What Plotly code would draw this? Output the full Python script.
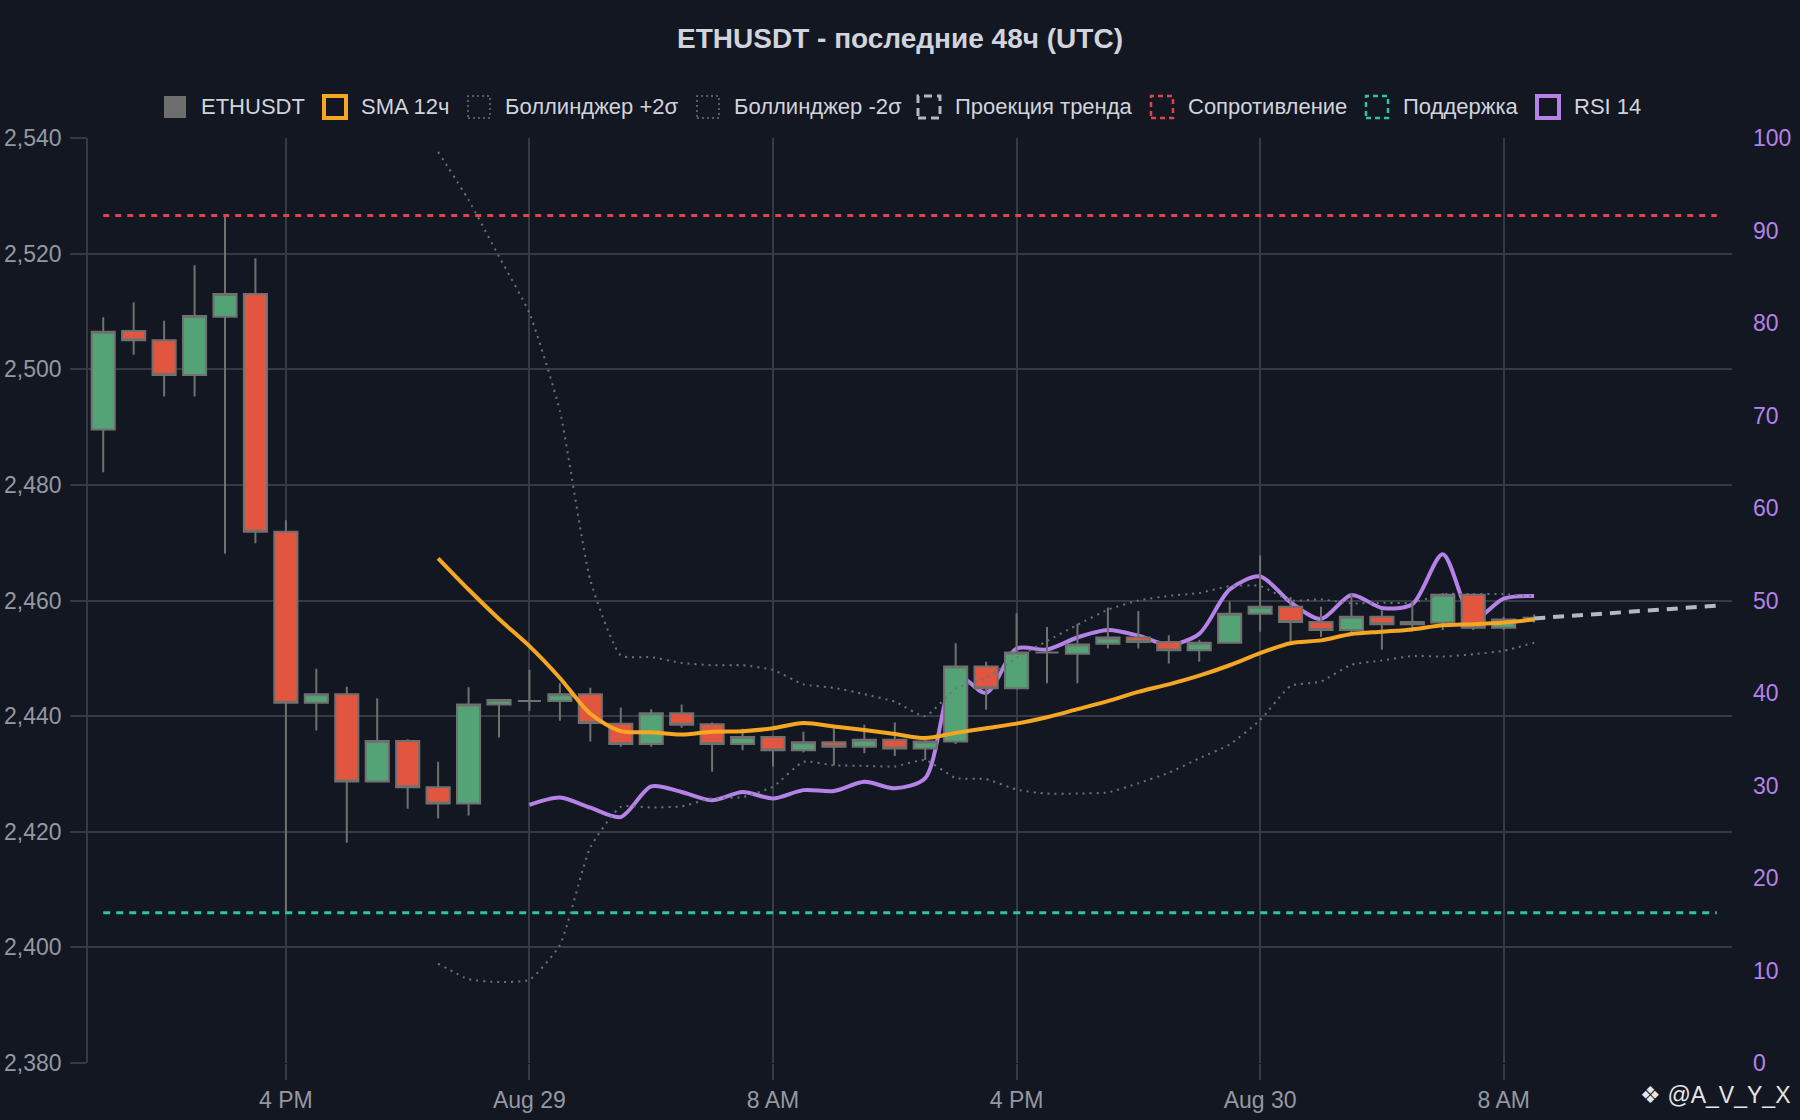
import pandas as pd
import plotly.graph_objects as go

# hourly candles, UTC
candle_times = pd.date_range("2024-08-28 10:00", periods=48, freq="h")

opens = [
    2489.6, 2506.6, 2505.0, 2499.0, 2509.1, 2513.0, 2471.9, 2442.3, 2443.8, 2428.7,
    2435.7, 2427.7, 2424.9, 2442.0, 2442.6, 2442.6, 2443.8, 2438.7, 2435.2, 2440.5,
    2438.6, 2435.2, 2436.4, 2434.1, 2435.5, 2434.7, 2435.9, 2434.4, 2435.6, 2448.6,
    2444.8, 2451.0, 2450.8, 2452.5, 2453.6, 2452.8, 2451.4, 2452.7, 2457.7, 2458.9,
    2456.3, 2454.9, 2457.2, 2455.9, 2456.2, 2461.0, 2455.3, 2457.0,
]
highs = [
    2509.0, 2511.6, 2508.4, 2518.0, 2526.6, 2519.2, 2473.9, 2448.2, 2445.1, 2443.1,
    2436.0, 2432.1, 2445.0, 2442.9, 2448.0, 2445.7, 2444.9, 2441.5, 2441.2, 2442.0,
    2438.9, 2437.8, 2436.6, 2437.3, 2438.3, 2438.5, 2438.9, 2436.4, 2452.6, 2449.4,
    2457.8, 2455.4, 2456.0, 2458.8, 2458.2, 2454.0, 2453.2, 2459.8, 2467.8, 2460.6,
    2458.9, 2461.2, 2458.3, 2459.8, 2461.3, 2461.2, 2457.2, 2457.6,
]
lows = [
    2482.2, 2502.5, 2495.3, 2495.3, 2468.1, 2469.9, 2406.0, 2437.5, 2418.1, 2428.6,
    2424.0, 2422.3, 2422.8, 2436.3, 2440.9, 2439.2, 2435.6, 2434.7, 2434.7, 2438.0,
    2430.4, 2434.1, 2431.3, 2433.7, 2431.5, 2433.6, 2433.1, 2432.4, 2435.2, 2441.1,
    2444.6, 2445.7, 2445.7, 2451.7, 2451.7, 2449.1, 2449.4, 2452.6, 2454.6, 2453.0,
    2453.7, 2454.3, 2451.5, 2455.2, 2454.9, 2454.9, 2454.9, 2456.2,
]
closes = [
    2506.5, 2505.0, 2499.0, 2509.2, 2513.0, 2471.9, 2442.3, 2443.8, 2428.7, 2435.7,
    2427.7, 2424.9, 2442.0, 2442.8, 2442.6, 2443.8, 2438.8, 2435.2, 2440.5, 2438.5,
    2435.2, 2436.4, 2434.1, 2435.5, 2434.7, 2435.9, 2434.4, 2435.6, 2448.6, 2444.8,
    2451.0, 2451.0, 2452.4, 2453.6, 2452.8, 2451.4, 2452.7, 2457.7, 2458.9, 2456.3,
    2454.9, 2457.2, 2455.9, 2456.3, 2461.0, 2455.3, 2456.7, 2457.0,
]

# indicators start after their warm-up period
sma_start = 11
sma_12 = [
    2467.3, 2461.9, 2456.8, 2452.1, 2446.6, 2440.4, 2437.4, 2437.2, 2436.8, 2437.3,
    2437.4, 2437.9, 2438.8, 2438.2, 2437.6, 2436.9, 2436.2, 2437.1, 2437.9, 2438.7,
    2439.8, 2441.2, 2442.6, 2444.2, 2445.5, 2447.0, 2448.8, 2450.9, 2452.6, 2453.1,
    2454.2, 2454.6, 2455.0, 2455.7, 2455.9, 2456.2, 2456.7,
]
bb_upper = [
    2537.6, 2529.3, 2519.5, 2509.7, 2492.8, 2463.5, 2450.5, 2450.2, 2449.2, 2448.8,
    2448.8, 2448.0, 2445.5, 2444.9, 2443.8, 2442.5, 2440.0, 2444.8, 2446.6, 2450.1,
    2453.0, 2455.8, 2458.4, 2460.0, 2460.8, 2461.3, 2462.5, 2462.5, 2460.0, 2460.2,
    2459.5, 2459.6, 2459.6, 2461.1, 2461.1, 2461.1, 2460.7,
]
bb_lower = [
    2397.2, 2394.5, 2394.0, 2394.4, 2400.4, 2417.3, 2424.3, 2424.2, 2424.4, 2425.8,
    2426.0, 2427.8, 2432.1, 2431.5, 2431.4, 2431.3, 2432.4, 2429.3, 2429.1, 2427.3,
    2426.6, 2426.6, 2426.8, 2428.4, 2430.2, 2432.7, 2435.1, 2439.3, 2445.2, 2446.0,
    2448.9, 2449.6, 2450.4, 2450.3, 2450.7, 2451.3, 2452.7,
]
rsi_start = 14
rsi_14 = [
    27.9, 28.7, 27.6, 26.6, 29.9, 29.3, 28.4, 29.3, 28.6, 29.5,
    29.4, 30.4, 29.7, 30.8, 42.0, 40.0, 44.8, 44.7, 46.0, 46.8,
    46.2, 45.2, 46.4, 51.2, 52.6, 49.8, 48.0, 50.6, 49.2, 49.6,
    55.0, 48.0, 50.2, 50.5,
]

proj_times = ["2024-08-30 09:00", "2024-08-30 15:00"]
proj_values = [2456.9, 2459.1]

level_times = ["2024-08-28 10:00", "2024-08-30 15:00"]
resistance = 2526.6
support = 2406.0

x_range = ["2024-08-28 09:30", "2024-08-30 15:30"]
x_tickvals = [
    "2024-08-28 16:00", "2024-08-29 00:00", "2024-08-29 08:00",
    "2024-08-29 16:00", "2024-08-30 00:00", "2024-08-30 08:00",
]
x_ticktext = ["4 PM", "Aug 29", "8 AM", "4 PM", "Aug 30", "8 AM"]

W, H = 1800, 1120
ML, MR, MT, MB = 88, 68, 138, 57

BG = "#131722"
GRID = "#363a45"
TICK = "#9598a1"
TEXT = "#d1d4dc"
GREEN = "#54a376"
RED = "#e2563f"
WICK = "#707070"
ORANGE = "#f5a623"
BAND = "#6b7280"
PROJ = "#b4b8bf"
RES = "#e0434f"
SUP = "#2bc79a"
PURPLE = "#b582e8"
FONT = "Liberation Sans, Arial, sans-serif"

fig = go.Figure()

# RSI sits on the main (right) axis so the price layer is drawn above it
fig.add_trace(go.Scatter(
    x=candle_times[rsi_start:], y=rsi_14, mode="lines", name="RSI 14",
    line=dict(color=PURPLE, width=4, shape="spline", smoothing=0.8),
    yaxis="y",
))
fig.add_trace(go.Scatter(
    x=candle_times[sma_start:], y=bb_upper, mode="lines", name="Боллинджер +2σ",
    line=dict(color=BAND, width=2, dash="2px,5px", shape="spline", smoothing=0.5),
    yaxis="y2",
))
fig.add_trace(go.Scatter(
    x=candle_times[sma_start:], y=bb_lower, mode="lines", name="Боллинджер -2σ",
    line=dict(color=BAND, width=2, dash="2px,5px", shape="spline", smoothing=0.5),
    yaxis="y2",
))
fig.add_trace(go.Scatter(
    x=level_times, y=[resistance, resistance], mode="lines", name="Сопротивление",
    line=dict(color=RES, width=3, dash="6px,6px"),
    yaxis="y2",
))
fig.add_trace(go.Scatter(
    x=level_times, y=[support, support], mode="lines", name="Поддержка",
    line=dict(color=SUP, width=3, dash="7px,6px"),
    yaxis="y2",
))
fig.add_trace(go.Scatter(
    x=proj_times, y=proj_values, mode="lines", name="Проекция тренда",
    line=dict(color=PROJ, width=4, dash="11px,8px"),
    yaxis="y2",
))
fig.add_trace(go.Scatter(
    x=candle_times[sma_start:], y=sma_12, mode="lines", name="SMA 12ч",
    line=dict(color=ORANGE, width=4, shape="spline", smoothing=0.8),
    yaxis="y2",
))
fig.add_trace(go.Candlestick(
    x=candle_times, open=opens, high=highs, low=lows, close=closes,
    name="ETHUSDT",
    increasing=dict(fillcolor=GREEN, line=dict(color=WICK, width=2)),
    decreasing=dict(fillcolor=RED, line=dict(color=WICK, width=2)),
    whiskerwidth=0,
    yaxis="y2",
))

# legend row with square icons (pixel positions in the figure)
legend_labels = [
    "ETHUSDT", "SMA 12ч", "Боллинджер +2σ", "Боллинджер -2σ",
    "Проекция тренда", "Сопротивление", "Поддержка", "RSI 14",
]
legend_left_px = [164, 324, 468, 697, 918, 1151, 1366, 1537]
legend_styles = [
    dict(fill="#6e6e6e", line="#6e6e6e", width=0, dash="solid"),
    dict(fill="rgba(0,0,0,0)", line=ORANGE, width=4, dash="solid"),
    dict(fill="rgba(0,0,0,0)", line=BAND, width=1.5, dash="2px,3px"),
    dict(fill="rgba(0,0,0,0)", line=BAND, width=1.5, dash="2px,3px"),
    dict(fill="rgba(0,0,0,0)", line=PROJ, width=3, dash="8px,5px"),
    dict(fill="rgba(0,0,0,0)", line=RES, width=2.5, dash="5px,4px"),
    dict(fill="rgba(0,0,0,0)", line=SUP, width=2.5, dash="5px,4px"),
    dict(fill="rgba(0,0,0,0)", line=PURPLE, width=4, dash="solid"),
]
ICON = 22
LEGEND_MID = 107


def paper_x(px):
    return (px - ML) / (W - ML - MR)


def paper_y(py):
    return (H - MB - py) / (H - MT - MB)


shapes = []
annotations = []
for label, left, st in zip(legend_labels, legend_left_px, legend_styles):
    shapes.append(dict(
        type="rect", xref="paper", yref="paper", layer="above",
        x0=paper_x(left), x1=paper_x(left + ICON),
        y0=paper_y(LEGEND_MID + ICON / 2), y1=paper_y(LEGEND_MID - ICON / 2),
        fillcolor=st["fill"],
        line=dict(color=st["line"], width=st["width"], dash=st["dash"]),
    ))
    annotations.append(dict(
        text=label, xref="paper", yref="paper",
        x=paper_x(left + ICON + 13), y=paper_y(LEGEND_MID),
        xanchor="left", yanchor="middle", showarrow=False,
        font=dict(size=22, color=TEXT, family=FONT),
    ))

annotations.append(dict(
    text="❖ @A_V_Y_X",
    xref="paper", yref="paper",
    x=paper_x(1792), y=paper_y(1095), xanchor="right", yanchor="middle",
    showarrow=False,
    font=dict(size=23, color="#e6e6e6", family=FONT),
))

fig.update_layout(
    width=W,
    height=H,
    paper_bgcolor=BG,
    plot_bgcolor=BG,
    font=dict(family=FONT, color=TEXT, size=22),
    margin=dict(l=ML, r=MR, t=MT, b=MB, autoexpand=False),
    showlegend=False,
    boxgap=0.24,
    boxgroupgap=0,
    title=dict(
        text="<b>ETHUSDT - последние 48ч (UTC)</b>",
        x=0.5, xanchor="center",
        y=1 - 38 / H, yanchor="middle", yref="container",
        font=dict(size=28, color=TEXT, family=FONT),
    ),
    xaxis=dict(
        type="date",
        range=x_range,
        tickvals=x_tickvals,
        ticktext=x_ticktext,
        showgrid=True, gridcolor=GRID, gridwidth=1.5,
        ticks="outside", ticklen=16, tickcolor=GRID, tickwidth=1.5,
        tickfont=dict(size=23, color=TICK),
        ticklabelstandoff=0,
        rangeslider=dict(visible=False),
        showline=False, zeroline=False,
        automargin=False,
    ),
    yaxis=dict(
        side="right",
        range=[0, 100],
        dtick=10,
        showgrid=False, zeroline=False, showline=False,
        ticks="",
        tickfont=dict(size=23, color=PURPLE),
        ticklabelstandoff=20,
        automargin=False,
    ),
    yaxis2=dict(
        overlaying="y",
        side="left",
        range=[2380, 2540],
        dtick=20,
        tickformat=",",
        showgrid=True, gridcolor=GRID, gridwidth=1.5,
        ticks="outside", ticklen=16, tickcolor=GRID, tickwidth=1.5,
        showline=True, linecolor=GRID, linewidth=1.5,
        zeroline=False,
        tickfont=dict(size=23, color=TICK),
        ticklabelstandoff=4,
        automargin=False,
    ),
    shapes=shapes,
    annotations=annotations,
)

fig.write_html(
    "out.html",
    config={"displayModeBar": False},
    post_script="document.body.style.margin='0';document.body.style.background='%s';" % BG,
)
